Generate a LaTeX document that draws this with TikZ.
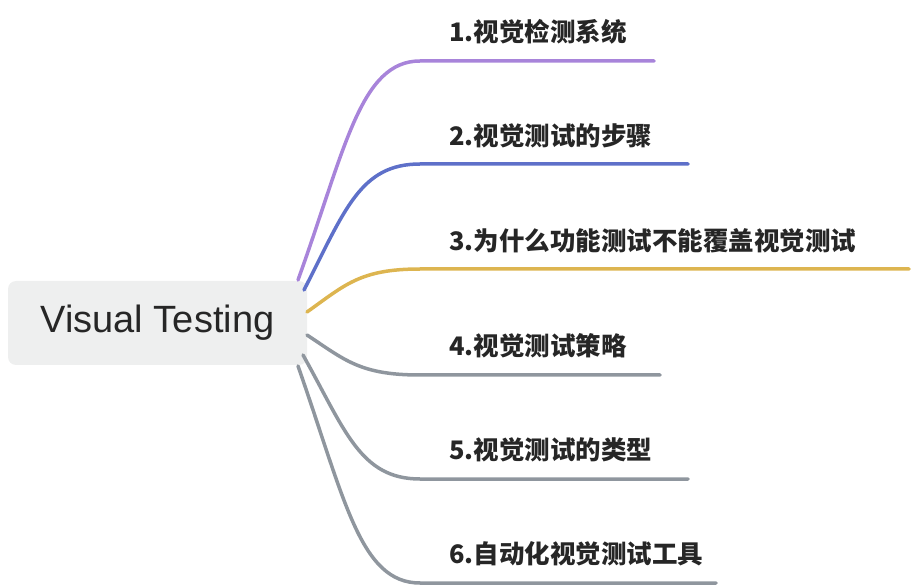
\documentclass[tikz,border=0pt]{standalone}
\usepackage{fontspec}
\setmainfont{Liberation Sans}
\newfontfamily\cjk{Noto Sans CJK SC}
\definecolor{cpur}{HTML}{A884DA}
\definecolor{cblu}{HTML}{5E70C9}
\definecolor{cgol}{HTML}{DDB550}
\definecolor{cgry}{HTML}{8F969E}
\definecolor{cbox}{HTML}{EEEFEF}
\tikzset{br/.style={line width=3.5pt,line cap=round},
lbl/.style={anchor=west,font=\cjk\fontsize{25.5}{30}\selectfont\bfseries,text=black!85,inner sep=0pt}}
\begin{document}
\begin{tikzpicture}[x=1pt,y=-1pt]
\useasboundingbox (0,0) rectangle (914,588);
\node[fill=cbox,rounded corners=8pt,minimum width=299pt,minimum height=84pt,font=\fontsize{38}{44}\selectfont,text=black!85] (root) at (157.5,323) {Visual Testing};
\coordinate (s1) at (298,280); \coordinate (s2) at (304,290); \coordinate (s3) at (307,312);
\coordinate (s4) at (307,335); \coordinate (s5) at (303,355); \coordinate (s6) at (298,366);
\coordinate (a1) at (420,61); \coordinate (e1) at (654,61);
\coordinate (a2) at (420,164); \coordinate (e2) at (688,164);
\coordinate (a3) at (420,269); \coordinate (e3) at (909,269);
\coordinate (a4) at (420,375); \coordinate (e4) at (660,375);
\coordinate (a5) at (420,479); \coordinate (e5) at (688,479);
\coordinate (a6) at (420,583); \coordinate (e6) at (716,583);
\draw[br,cpur] (s1) .. controls (345,150) and (360,61) .. (a1) -- (e1);
\draw[br,cblu] (s2) .. controls (345,210) and (360,164) .. (a2) -- (e2);
\draw[br,cgol] (s3) .. controls (345,285) and (360,269) .. (a3) -- (e3);
\draw[br,cgry] (s4) .. controls (345,360) and (360,375) .. (a4) -- (e4);
\draw[br,cgry] (s5) .. controls (345,430) and (360,479) .. (a5) -- (e5);
\draw[br,cgry] (s6) .. controls (345,500) and (360,583) .. (a6) -- (e6);
\node[lbl] (t1) at (449,32) {1.视觉检测系统};
\node[lbl] (t2) at (449,136) {2.视觉测试的步骤};
\node[lbl] (t3) at (449,241) {3.为什么功能测试不能覆盖视觉测试};
\node[lbl] (t4) at (449,346) {4.视觉测试策略};
\node[lbl] (t5) at (449,450) {5.视觉测试的类型};
\node[lbl] (t6) at (449,554) {6.自动化视觉测试工具};
\end{tikzpicture}
\end{document}
